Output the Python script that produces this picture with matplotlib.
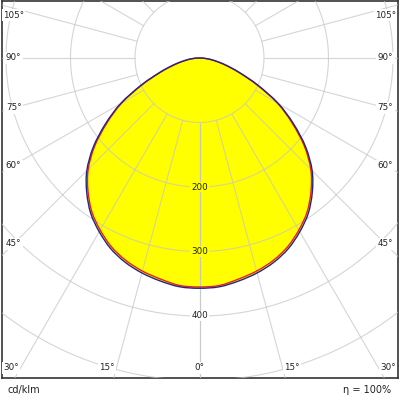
import numpy as np
import matplotlib
matplotlib.use("Agg")
import matplotlib.pyplot as plt
from matplotlib.path import Path
from matplotlib.patches import PathPatch

# ---- data (cd/klm), gamma angles 0..90 deg, symmetric distribution ----
gamma_deg = [0, 5, 10, 15, 20, 25, 30, 35, 40, 45, 50, 55, 60, 65, 70, 75, 80, 85, 90]
c90_270 = [357, 356, 351, 345, 337, 326, 311, 294, 272, 247, 215, 178, 141, 100, 66, 42, 24, 11, 0]
c0_180 = [355, 354, 348, 342, 334, 323, 308, 291, 269, 244, 212, 175, 139, 98, 64, 40, 23, 10, 0]

ring_values = [100, 200, 300, 400, 500, 600]
ring_labels = [200, 300, 400]
ray_angles = list(range(0, 181, 15))
angle_labels = [0, 15, 30, 45, 60, 75, 90, 105]
unit_text = "cd/klm"
eta_text = "η = 100%"

# ---- figure geometry ----
fig = plt.figure(figsize=(4, 4), dpi=100)
ax = fig.add_axes([1.5 / 400, 22 / 400, 396 / 400, 377 / 400])
scale = 0.645  # px per cd
xmax = 198 / scale
ax.set_xlim(-xmax, xmax)
ax.set_ylim(-(378 - 58) / scale, (58 - 1) / scale)
ax.set_xticks([])
ax.set_yticks([])
for s in ax.spines.values():
    s.set_color("#333333")
    s.set_linewidth(1.2)


def to_xy(angles_deg, values):
    a = np.radians(np.asarray(angles_deg, dtype=float))
    v = np.asarray(values, dtype=float)
    return v * np.sin(a), -v * np.cos(a)


def smooth_closed_path(vals):
    # closed loop through the measured points (origin at +/-90 shared once)
    ang = [-g for g in gamma_deg[::-1]] + gamma_deg[1:-1]
    v = list(vals[::-1]) + list(vals[1:-1])
    x, y = to_xy(ang, v)
    P = np.column_stack([x, y])
    n = len(P)
    verts = [P[0]]
    codes = [Path.MOVETO]
    for i in range(n):
        p0, p1, p2, p3 = P[i - 1], P[i], P[(i + 1) % n], P[(i + 2) % n]
        c1 = p1 + (p2 - p0) / 6.0
        c2 = p2 - (p3 - p1) / 6.0
        verts += [c1, c2, p2]
        codes += [Path.CURVE4] * 3
    return Path(verts, codes)

blue_path = smooth_closed_path(c90_270)
red_path = smooth_closed_path(c0_180)

ax.add_patch(PathPatch(blue_path, facecolor="#ffff00", edgecolor="none", zorder=1))

# grid on top of fill
grid_kw = dict(color="#c4c4c4", lw=0.8, alpha=0.7, zorder=3, solid_capstyle="butt")
t = np.linspace(0, 2 * np.pi, 720)
for r in ring_values:
    ax.plot(r * np.sin(t), r * np.cos(t), **grid_kw)
for a in ray_angles:
    for sgn in (-1, 1):
        xs, ys = to_xy([sgn * a, sgn * a], [ring_values[0], 2000])
        ax.plot(xs, ys, **grid_kw)

ax.add_patch(PathPatch(red_path, facecolor="none", edgecolor="#e82020", lw=1.0, zorder=5))
ax.add_patch(PathPatch(blue_path, facecolor="none", edgecolor="#24248e", lw=1.0, zorder=6))

# radial value labels along 0 deg
for v in ring_labels:
    inside = v < c90_270[0]
    ax.text(0, -v, str(v), ha="center", va="center", fontsize=6.3, color="#222222", zorder=7,
            bbox=dict(boxstyle="square,pad=0.1", fc="#ffff00" if inside else "white", ec="none"))

# angle labels where rays meet an inset frame
side_x = 186 * 1.55
bot_y = 310 * 1.55
top_y = 43 * 1.55
for a in angle_labels:
    ar = np.radians(a)
    s, c = np.sin(ar), np.cos(ar)
    for sgn in (-1, 1):
        if a == 0:
            if sgn == 1:
                ax.text(0, -bot_y, "0°", ha="center", va="center", fontsize=6.3, color="#222222",
                        zorder=8, bbox=dict(boxstyle="square,pad=0.15", fc="white", ec="none"))
            continue
        tx = side_x / s if s > 0 else np.inf
        ty = bot_y / c if c > 1e-9 else (top_y / -c if c < -1e-9 else np.inf)
        if ty < tx and c > 0:
            x = sgn * ty * s
            y = -bot_y
            ha = "right" if sgn < 0 else "left"
            x += sgn * 3
        else:
            x = sgn * side_x
            y = min(-tx * c, top_y)
            ha = "center"
        ax.text(x, y, f"{a}°", ha=ha, va="center", fontsize=6.3, color="#222222", zorder=8,
                bbox=dict(boxstyle="square,pad=0.15", fc="white", ec="none"))

fig.text(8 / 400, 0.025, unit_text, ha="left", va="center", fontsize=7, color="#222222")
fig.text(391 / 400, 0.025, eta_text, ha="right", va="center", fontsize=7, color="#222222")

fig.savefig("out.png", dpi=100, facecolor="white")
